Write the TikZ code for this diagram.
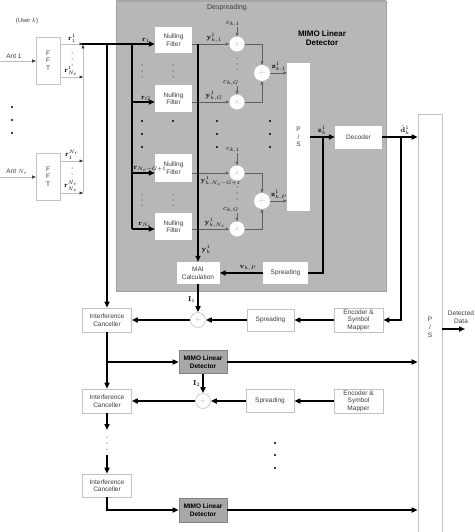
\documentclass[tikz,border=0pt]{standalone}
\usepackage[no-math]{fontspec}
\setmainfont{Liberation Sans}
\usetikzlibrary{arrows.meta}
\definecolor{detfill}{RGB}{183,183,183}
\definecolor{detedge}{RGB}{160,160,160}
\definecolor{boxedge}{RGB}{195,195,195}
\definecolor{mimofill}{RGB}{168,168,168}
\definecolor{mimoedge}{RGB}{130,130,130}
\definecolor{thinline}{RGB}{95,95,95}
\definecolor{txt}{RGB}{60,60,60}
\definecolor{sym}{RGB}{190,190,190}
\newcommand\bxfont{\fontsize{6.5}{7.6}\selectfont}
\newcommand\lbfont{\fontsize{7}{8}\selectfont}
\begin{document}
\begin{tikzpicture}[x=1pt,y=-1pt,
  wbox/.style={draw=boxedge,fill=white,line width=0.6pt,font=\bxfont,text=txt,align=center,inner sep=0pt},
  ibox/.style={draw=none,fill=white,font=\bxfont,text=txt,align=center,inner sep=0pt},
  mbox/.style={draw=mimoedge,fill=mimofill,line width=0.6pt,font=\bxfont\bfseries,align=center,inner sep=0pt,minimum width=48pt,minimum height=23pt},
  thk/.style={line width=1.5pt,-{Triangle[length=6pt,width=5pt]}},
  thkl/.style={line width=1.5pt},
  thn/.style={line width=0.5pt,draw=thinline,-{Triangle[length=3.5pt,width=3pt]}},
  thnl/.style={line width=0.5pt,draw=gray!50,-{Triangle[length=3.5pt,width=3pt,color=black!80]}},
  mult/.style={circle,fill=white,draw=none,minimum size=15pt,inner sep=0pt,font=\fontsize{9}{9}\selectfont,text=sym},
  addo/.style={circle,fill=white,draw=boxedge,line width=0.6pt,minimum size=15pt,inner sep=0pt,font=\fontsize{9}{9}\selectfont,text=sym},
  lbl/.style={font=\lbfont,inner sep=0.5pt},
  dotb/.style={fill=black},
]
\useasboundingbox (0,0) rectangle (474,532);
% detector region
\fill[detfill] (116,0) rectangle (386,291);
\draw[detedge,line width=0.8pt] (116,291) -- (116,1) -- (386,1) -- (386,291) -- cycle;
\draw[gray!70,line width=2pt] (116,1) -- (386,1);
\node[font=\fontsize{7}{8}\selectfont,text=txt] (desp) at (227,8) {Despreading};
\node[font=\fontsize{8}{9.5}\selectfont\bfseries,align=center] (mld) at (322,38) {MIMO Linear\\Detector};

% user / antennas / FFT
\node[font=\fontsize{6}{7}\selectfont,text=txt] (user) at (27,21) {(User $k$)};
\node[font=\fontsize{6.5}{7}\selectfont,text=txt] (ant1) at (14,56) {Ant 1};
\node[font=\fontsize{6.5}{7}\selectfont,text=txt] (antn) at (17,172) {Ant $N_r$};
\node[wbox,minimum width=24pt,minimum height=47pt] (fft1) at (48,60.5) {F\\F\\T};
\node[wbox,minimum width=24pt,minimum height=47pt] (fft2) at (48,176.5) {F\\F\\T};
\coordinate (a1in) at (0,61);
\coordinate (anin) at (0,177);
\draw[thnl] (a1in) -- (fft1.west |- a1in);
\draw[thnl] (anin) -- (fft2.west |- anin);
\coordinate (o11) at (83,44);
\coordinate (o12) at (83,77);
\coordinate (o21) at (83,161);
\coordinate (o22) at (83,193);
\draw[thnl] (fft1.east |- o11) -- (o11);
\draw[thnl] (fft1.east |- o12) -- (o12);
\draw[thnl] (fft2.east |- o21) -- (o21);
\draw[thnl] (fft2.east |- o22) -- (o22);
\coordinate (bust) at (83,45);
\draw[thnl] (o22) -- (bust);
\node[lbl,anchor=south] (l11) at (72,43) {$\mathbf{r}_1^1$};
\node[lbl,anchor=south] (l12) at (71,76) {$\mathbf{r}_{N_c}^1$};
\node[lbl,anchor=south] (l21) at (72,160) {$\mathbf{r}_1^{N_r}$};
\node[lbl,anchor=south] (l22) at (71,192) {$\mathbf{r}_{N_c}^{N_r}$};
\foreach \y in {53,59,65,168,174,180} \fill[dotb] (72,\y) circle (0.5);
\foreach \y in {107,120,133} \fill[dotb] (12,\y) circle (1.2);

% nulling filters
\node[ibox,minimum width=37pt,minimum height=26pt] (nf1) at (173.5,40) {Nulling\\Filter};
\node[ibox,minimum width=37pt,minimum height=27pt] (nf2) at (173.5,98.5) {Nulling\\Filter};
\node[ibox,minimum width=37pt,minimum height=28pt] (nf3) at (173.5,168) {Nulling\\Filter};
\node[ibox,minimum width=37pt,minimum height=27pt] (nf4) at (173.5,226.5) {Nulling\\Filter};
\coordinate (b1) at (82,44);
\coordinate (b2) at (107,44);
\coordinate (b3) at (132,44);
\coordinate (t2) at (132,102);
\coordinate (t3) at (132,173);
\coordinate (t4) at (132,229);
\coordinate (yk) at (198,44);
\draw[thk] (b1) -- (b1 -| nf1.west);
\draw[thkl] (b3) -- (t4);
\draw[thk] (t2) -- (t2 -| nf2.west);
\draw[thk] (t3) -- (t3 -| nf3.west);
\draw[thk] (t4) -- (t4 -| nf4.west);
\node[lbl,anchor=south] (lr1) at (146,43) {$\mathbf{r}_1$};
\node[lbl,anchor=south] (lr2) at (146,101) {$\mathbf{r}_G$};
\node[lbl,anchor=south west] (lr3) at (133,172) {$\mathbf{r}_{N_c-G+1}$};
\node[lbl,anchor=south] (lr4) at (145,228) {$\mathbf{r}_{N_c}$};

% multipliers and adders
\node[mult] (m1) at (237,44) {$\times$};
\node[mult] (m2) at (237,102) {$\times$};
\node[mult] (m3) at (237,173) {$\times$};
\node[mult] (m4) at (237,229) {$\times$};
\node[mult,minimum size=16pt] (a1) at (262,73) {$+$};
\node[mult,minimum size=16pt] (a2) at (262,201) {$+$};
\draw[thn] (nf1.east |- m1) -- (m1);
\draw[thn] (nf2.east |- m2) -- (m2);
\draw[thn] (nf3.east |- m3) -- (m3);
\draw[thn] (nf4.east |- m4) -- (m4);
\node[lbl,anchor=south] (ly1) at (214,43) {$\mathbf{y}_{k,1}^1$};
\node[lbl,anchor=south] (ly2) at (214,101) {$\mathbf{y}_{k,G}^1$};
\node[lbl,anchor=north west] (ly3) at (200,176) {$\mathbf{y}_{k,N_c-G+1}^1$};
\node[lbl,anchor=south] (ly4) at (215,228) {$\mathbf{y}_{k,N_c}^1$};
\coordinate (c1) at (237,27);
\coordinate (c2) at (237,86);
\coordinate (c3) at (237,153);
\coordinate (c4) at (237,213);
\draw[thn] (c1) -- (m1);
\draw[thn] (c2) -- (m2);
\draw[thn] (c3) -- (m3);
\draw[thn] (c4) -- (m4);
\node[lbl,anchor=south] (lc1) at (233,27) {$c_{k,1}$};
\node[lbl,anchor=south] (lc2) at (231,86) {$c_{k,G}$};
\node[lbl,anchor=south] (lc3) at (233,153) {$c_{k,1}$};
\node[lbl,anchor=south] (lc4) at (231,213) {$c_{k,G}$};
\foreach \y in {58,64,70,187,193,199} \fill[dotb] (237,\y) circle (0.5);
\foreach \x in {142,173} \foreach \y in {65,71,77,195,200,205} \fill[dotb] (\x,\y) circle (0.5);
\foreach \x in {142,217,270} \foreach \y in {121,134,147} \fill[dotb] (\x,\y) circle (1.2);
\fill[dotb] (173,121) circle (1.2);
\draw[thn] (m1.east) -- (a1 |- m1) -- (a1.north);
\draw[thn] (m2.east) -- (a1 |- m2) -- (a1.south);
\draw[thn] (m3.east) -- (a2 |- m3) -- (a2.north);
\draw[thn] (m4.east) -- (a2 |- m4) -- (a2.south);

% P/S and decoder
\node[ibox,minimum width=23pt,minimum height=148pt] (ps) at (298.5,137) {P\\/\\S};
\draw[thn] (a1.east) -- (a1.east -| ps.west);
\draw[thn] (a2.east) -- (a2.east -| ps.west);
\node[lbl,anchor=south] (lz1) at (279,72) {$\mathbf{z}_{k,1}^1$};
\node[lbl,anchor=south] (lz2) at (279,200) {$\mathbf{z}_{k,P}^1$};
\node[ibox,minimum width=47pt,minimum height=23pt] (dec) at (358.5,137) {Decoder};
\draw[thk] (ps.east) -- (dec.west);
\node[lbl,anchor=south] (lzk) at (322,135) {$\mathbf{z}_k^1$};

% MAI and spreading
\node[ibox,minimum width=43pt,minimum height=22pt] (mai) at (198,273) {MAI\\Calculation};
\node[ibox,minimum width=45pt,minimum height=22pt] (sp1) at (285.5,273) {Spreading};
\draw[thk] (yk) -- (mai.north);
\node[lbl,anchor=west] (lyk) at (201,249) {$\mathbf{y}_k^1$};
\coordinate (j1) at (323,137);
\coordinate (j2) at (323,273);
\draw[thkl] (j1) -- (j2) -- (sp1.east);
\draw[thk] (sp1.west) -- (mai.east);
\node[lbl,anchor=south] (lv) at (248,271) {$\mathbf{v}_{k,P}$};

% big P/S
\node[wbox,minimum width=24pt,minimum height=426pt,anchor=north] (bps) at (430,114) {P\\/\\S};
\draw[thk] (dec.east) -- (dec.east -| bps.west);
\node[lbl,anchor=south] (ld) at (405,135) {$\hat{\mathbf{d}}_k^1$};
\coordinate (out) at (465,329);
\draw[thk] (bps.east |- out) -- (out);
\node[font=\bxfont,text=txt,align=center] (dd) at (461,317) {Detected\\Data};

% stage 1
\node[addo] (ad3) at (198,320) {$+$};
\node[wbox,minimum width=49pt,minimum height=24pt] (ic1) at (107,320) {Interference\\Canceller};
\node[wbox,minimum width=47pt,minimum height=22pt] (sp2) at (270.5,320) {Spreading};
\node[wbox,minimum width=49pt,minimum height=24pt] (enc1) at (358.5,320) {Encoder \&\\Symbol\\Mapper};
\draw[thk] (mai.south) -- (ad3.north);
\node[lbl,anchor=east] (li1) at (196,300) {$\mathbf{I}_1$};
\coordinate (j3) at (401,137);
\draw[thk] (j3) |- (enc1.east);
\draw[thk] (enc1.west) -- (sp2.east);
\draw[thk] (sp2.west) -- (ad3.east);
\draw[thk] (ad3.west) -- (ic1.east);
\draw[thk] (b2) -- (ic1.north);

% stage 2
\node[mbox] (mimo1) at (203,362) {MIMO Linear\\Detector};
\node[addo] (ad4) at (203,401) {$+$};
\node[wbox,minimum width=49pt,minimum height=24pt] (ic2) at (107,401) {Interference\\Canceller};
\node[wbox,minimum width=48pt,minimum height=23pt] (sp3) at (270,401) {Spreading};
\node[wbox,minimum width=49pt,minimum height=24pt] (enc2) at (358.5,401) {Encoder \&\\Symbol\\Mapper};
\coordinate (j4) at (107,362);
\draw[thk] (ic1.south) -- (ic2.north);
\draw[thk] (j4) -- (mimo1.west);
\draw[thk] (mimo1.east) -- (mimo1.east -| bps.west);
\draw[thk] (mimo1.south) -- (ad4.north);
\node[lbl,anchor=east] (li2) at (201,384) {$\mathbf{I}_2$};
\draw[thk] (enc2.west) -- (sp3.east);
\draw[thk] (sp3.west) -- (ad4.east);
\draw[thk] (ad4.west) -- (ic2.east);

% last stage
\coordinate (j5) at (107,430);
\coordinate (j6) at (107,455);
\node[wbox,minimum width=49pt,minimum height=23pt] (ic3) at (107,485.5) {Interference\\Canceller};
\node[mbox,minimum height=24pt] (mimo3) at (203,510) {MIMO Linear\\Detector};
\draw[thk] (ic2.south) -- (j5);
\draw[thk] (j6) -- (ic3.north);
\foreach \y in {437,443,449} \fill[dotb] (107,\y) circle (0.5);
\draw[thk] (ic3.south) |- (mimo3.west);
\draw[thk] (mimo3.east) -- (mimo3.east -| bps.west);
\foreach \y in {443,455,468} \fill[dotb] (275,\y) circle (1.2);
\end{tikzpicture}
\end{document}
